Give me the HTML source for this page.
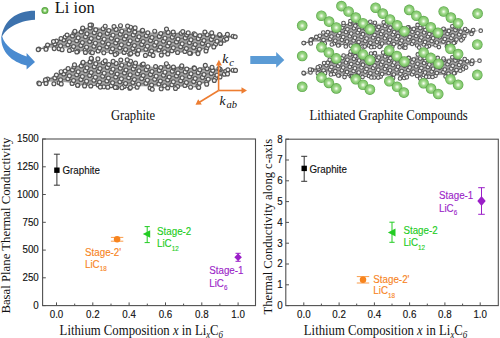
<!DOCTYPE html>
<html><head><meta charset="utf-8"><style>
html,body{margin:0;padding:0;background:#fff;}
body{width:500px;height:338px;overflow:hidden;font-family:"Liberation Sans",sans-serif;}
svg{display:block;}
</style></head><body>
<svg width="500" height="338" viewBox="0 0 500 338">
<defs>
 <radialGradient id="ball" cx="0.5" cy="0.5" r="0.5" fx="0.5" fy="0.52">
  <stop offset="0" stop-color="#ffffff"/>
  <stop offset="0.16" stop-color="#dcf3d0"/>
  <stop offset="0.45" stop-color="#9ed78a"/>
  <stop offset="0.8" stop-color="#80c76a"/>
  <stop offset="1" stop-color="#509c40"/>
 </radialGradient>
 <radialGradient id="liball" cx="0.5" cy="0.5" r="0.5">
  <stop offset="0" stop-color="#ffffff"/>
  <stop offset="0.22" stop-color="#d4f0c6"/>
  <stop offset="0.55" stop-color="#7cc860"/>
  <stop offset="1" stop-color="#4e9a3a"/>
 </radialGradient>
</defs>
<rect width="500" height="338" fill="#fff"/><path d="M35,10.7 C17,10.5 3.5,20 1.3,38 L2.2,36.5 C5,30 17,20.5 35,19.8 Z" fill="#3d72ad"/><path d="M1.3,37 C0.8,52 12,62 26.6,65.5 L26.6,69.6 L35,62 L26.6,53 L26.6,56.6 C14,52 5,46 2.2,36.5 Z" fill="#4a8bd0"/><circle cx="44.9" cy="10.5" r="3.5" fill="url(#liball)"/><text transform="translate(54.80,12.60) scale(1,1.03)" font-family="Liberation Serif" font-size="16.5" fill="#111">Li ion</text><polygon points="41.0,47.4 62.6,38.1 76.5,32.1 91.7,26.4 106.9,28.7 128.4,28.1 143.1,31.7 154.9,33.0 165.7,30.4 172.5,33.4 181.3,32.1 194.1,34.7 203.9,32.6 217.6,34.7 233.9,36.6 225.2,39.4 212.7,45.7 204.9,48.8 197.0,51.5 152.9,52.4 115.4,51.7 78.7,50.0 63.7,47.9" fill="#a4a4a4"/><path d="M46.1,47.9L38.8,49.0M46.1,47.9L47.6,45.0M54.9,43.9L47.6,45.0M54.9,43.9L56.4,41.0M54.9,43.9L60.6,45.8M63.7,39.9L56.4,41.0M63.7,39.9L65.2,37.0M63.7,39.9L69.4,41.8M72.5,35.9L65.2,37.0M72.5,35.9L74.0,33.0M72.5,35.9L78.2,37.8M81.3,31.9L74.0,33.0M81.3,31.9L82.8,29.0M81.3,31.9L87.0,33.8M90.1,27.9L82.8,29.0M90.1,27.9L91.6,25.0M90.1,27.9L95.8,29.8M59.1,48.7L60.6,45.8M67.9,44.7L60.6,45.8M67.9,44.7L69.4,41.8M67.9,44.7L73.6,46.5M76.7,40.7L69.4,41.8M76.7,40.7L78.2,37.8M76.7,40.7L82.4,42.5M85.5,36.7L78.2,37.8M85.5,36.7L87.0,33.8M85.5,36.7L91.2,38.5M94.3,32.7L87.0,33.8M94.3,32.7L95.8,29.8M94.3,32.7L100.0,34.5M103.1,28.7L95.8,29.8M103.1,28.7L108.8,30.5M72.1,49.4L73.6,46.5M72.1,49.4L77.8,51.2M80.9,45.4L73.6,46.5M80.9,45.4L82.4,42.5M80.9,45.4L86.6,47.2M89.7,41.4L82.4,42.5M89.7,41.4L91.2,38.5M89.7,41.4L95.4,43.2M98.5,37.4L91.2,38.5M98.5,37.4L100.0,34.5M98.5,37.4L104.2,39.2M107.3,33.4L100.0,34.5M107.3,33.4L108.8,30.5M107.3,33.4L113.0,35.2M116.1,29.4L108.8,30.5M116.1,29.4L121.8,31.2M85.1,50.2L77.8,51.2M85.1,50.2L86.6,47.2M85.1,50.2L90.8,52.0M93.9,46.2L86.6,47.2M93.9,46.2L95.4,43.2M93.9,46.2L99.6,48.0M102.7,42.2L95.4,43.2M102.7,42.2L104.2,39.2M102.7,42.2L108.4,44.0M111.5,38.2L104.2,39.2M111.5,38.2L113.0,35.2M111.5,38.2L117.2,40.0M120.3,34.2L113.0,35.2M120.3,34.2L121.8,31.2M120.3,34.2L126.0,36.0M129.1,30.2L121.8,31.2M129.1,30.2L130.6,27.2M129.1,30.2L134.8,32.0M98.1,50.9L90.8,52.0M98.1,50.9L99.6,48.0M98.1,50.9L103.8,52.8M106.9,46.9L99.6,48.0M106.9,46.9L108.4,44.0M106.9,46.9L112.6,48.8M115.7,42.9L108.4,44.0M115.7,42.9L117.2,40.0M115.7,42.9L121.4,44.8M124.5,38.9L117.2,40.0M124.5,38.9L126.0,36.0M124.5,38.9L130.2,40.8M133.3,34.9L126.0,36.0M133.3,34.9L134.8,32.0M133.3,34.9L139.0,36.8M142.1,30.9L134.8,32.0M142.1,30.9L147.8,32.8M111.1,51.7L103.8,52.8M111.1,51.7L112.6,48.8M111.1,51.7L116.8,53.5M119.9,47.7L112.6,48.8M119.9,47.7L121.4,44.8M119.9,47.7L125.6,49.5M128.7,43.7L121.4,44.8M128.7,43.7L130.2,40.8M128.7,43.7L134.4,45.5M137.5,39.7L130.2,40.8M137.5,39.7L139.0,36.8M137.5,39.7L143.2,41.5M146.3,35.7L139.0,36.8M146.3,35.7L147.8,32.8M146.3,35.7L152.0,37.5M124.1,52.4L116.8,53.5M124.1,52.4L125.6,49.5M124.1,52.4L129.8,54.2M132.9,48.4L125.6,49.5M132.9,48.4L134.4,45.5M132.9,48.4L138.6,50.2M141.7,44.4L134.4,45.5M141.7,44.4L143.2,41.5M141.7,44.4L147.4,46.2M150.5,40.4L143.2,41.5M150.5,40.4L152.0,37.5M150.5,40.4L156.2,42.2M159.3,36.4L152.0,37.5M159.3,36.4L160.8,33.5M159.3,36.4L165.0,38.2M168.1,32.4L160.8,33.5M168.1,32.4L173.8,34.2M137.1,53.2L129.8,54.2M137.1,53.2L138.6,50.2M145.9,49.2L138.6,50.2M145.9,49.2L147.4,46.2M145.9,49.2L151.6,51.0M154.7,45.2L147.4,46.2M154.7,45.2L156.2,42.2M154.7,45.2L160.4,47.0M163.5,41.2L156.2,42.2M163.5,41.2L165.0,38.2M163.5,41.2L169.2,43.0M172.3,37.2L165.0,38.2M172.3,37.2L173.8,34.2M172.3,37.2L178.0,39.0M181.1,33.2L173.8,34.2M181.1,33.2L186.8,35.0M150.1,53.9L151.6,51.0M158.9,49.9L151.6,51.0M158.9,49.9L160.4,47.0M158.9,49.9L164.6,51.8M167.7,45.9L160.4,47.0M167.7,45.9L169.2,43.0M167.7,45.9L173.4,47.8M176.5,41.9L169.2,43.0M176.5,41.9L178.0,39.0M176.5,41.9L182.2,43.8M185.3,37.9L178.0,39.0M185.3,37.9L186.8,35.0M185.3,37.9L191.0,39.8M194.1,33.9L186.8,35.0M194.1,33.9L199.8,35.8M171.9,50.7L164.6,51.8M171.9,50.7L173.4,47.8M171.9,50.7L177.6,52.5M180.7,46.7L173.4,47.8M180.7,46.7L182.2,43.8M180.7,46.7L186.4,48.5M189.5,42.7L182.2,43.8M189.5,42.7L191.0,39.8M189.5,42.7L195.2,44.5M198.3,38.7L191.0,39.8M198.3,38.7L199.8,35.8M198.3,38.7L204.0,40.5M207.1,34.7L199.8,35.8M207.1,34.7L212.8,36.5M184.9,51.4L177.6,52.5M184.9,51.4L186.4,48.5M184.9,51.4L190.6,53.2M193.7,47.4L186.4,48.5M193.7,47.4L195.2,44.5M193.7,47.4L199.4,49.2M202.5,43.4L195.2,44.5M202.5,43.4L204.0,40.5M202.5,43.4L208.2,45.2M211.3,39.4L204.0,40.5M211.3,39.4L212.8,36.5M211.3,39.4L217.0,41.2M220.1,35.4L212.8,36.5M220.1,35.4L225.8,37.2M197.9,52.2L190.6,53.2M197.9,52.2L199.4,49.2M206.7,48.2L199.4,49.2M206.7,48.2L208.2,45.2M215.5,44.2L208.2,45.2M215.5,44.2L217.0,41.2M224.3,40.2L217.0,41.2M224.3,40.2L225.8,37.2M233.1,36.2L225.8,37.2" stroke="#6e6e6e" stroke-width="1.1" fill="none"/><g fill="#f2f2f2" stroke="#555555" stroke-width="1.2"><circle cx="38.8" cy="49.0" r="1.95"/><circle cx="46.1" cy="47.9" r="1.95"/><circle cx="47.6" cy="45.0" r="1.95"/><circle cx="54.9" cy="43.9" r="1.95"/><circle cx="56.4" cy="41.0" r="1.95"/><circle cx="63.7" cy="39.9" r="1.95"/><circle cx="65.2" cy="37.0" r="1.95"/><circle cx="72.5" cy="35.9" r="1.95"/><circle cx="74.0" cy="33.0" r="1.95"/><circle cx="81.3" cy="31.9" r="1.95"/><circle cx="82.8" cy="29.0" r="1.95"/><circle cx="90.1" cy="27.9" r="1.95"/><circle cx="91.6" cy="25.0" r="1.95"/><circle cx="59.1" cy="48.7" r="1.95"/><circle cx="60.6" cy="45.8" r="1.95"/><circle cx="67.9" cy="44.7" r="1.95"/><circle cx="69.4" cy="41.8" r="1.95"/><circle cx="76.7" cy="40.7" r="1.95"/><circle cx="78.2" cy="37.8" r="1.95"/><circle cx="85.5" cy="36.7" r="1.95"/><circle cx="87.0" cy="33.8" r="1.95"/><circle cx="94.3" cy="32.7" r="1.95"/><circle cx="95.8" cy="29.8" r="1.95"/><circle cx="103.1" cy="28.7" r="1.95"/><circle cx="72.1" cy="49.4" r="1.95"/><circle cx="73.6" cy="46.5" r="1.95"/><circle cx="80.9" cy="45.4" r="1.95"/><circle cx="82.4" cy="42.5" r="1.95"/><circle cx="89.7" cy="41.4" r="1.95"/><circle cx="91.2" cy="38.5" r="1.95"/><circle cx="98.5" cy="37.4" r="1.95"/><circle cx="100.0" cy="34.5" r="1.95"/><circle cx="107.3" cy="33.4" r="1.95"/><circle cx="108.8" cy="30.5" r="1.95"/><circle cx="116.1" cy="29.4" r="1.95"/><circle cx="77.8" cy="51.2" r="1.95"/><circle cx="85.1" cy="50.2" r="1.95"/><circle cx="86.6" cy="47.2" r="1.95"/><circle cx="93.9" cy="46.2" r="1.95"/><circle cx="95.4" cy="43.2" r="1.95"/><circle cx="102.7" cy="42.2" r="1.95"/><circle cx="104.2" cy="39.2" r="1.95"/><circle cx="111.5" cy="38.2" r="1.95"/><circle cx="113.0" cy="35.2" r="1.95"/><circle cx="120.3" cy="34.2" r="1.95"/><circle cx="121.8" cy="31.2" r="1.95"/><circle cx="129.1" cy="30.2" r="1.95"/><circle cx="130.6" cy="27.2" r="1.95"/><circle cx="90.8" cy="52.0" r="1.95"/><circle cx="98.1" cy="50.9" r="1.95"/><circle cx="99.6" cy="48.0" r="1.95"/><circle cx="106.9" cy="46.9" r="1.95"/><circle cx="108.4" cy="44.0" r="1.95"/><circle cx="115.7" cy="42.9" r="1.95"/><circle cx="117.2" cy="40.0" r="1.95"/><circle cx="124.5" cy="38.9" r="1.95"/><circle cx="126.0" cy="36.0" r="1.95"/><circle cx="133.3" cy="34.9" r="1.95"/><circle cx="134.8" cy="32.0" r="1.95"/><circle cx="142.1" cy="30.9" r="1.95"/><circle cx="103.8" cy="52.8" r="1.95"/><circle cx="111.1" cy="51.7" r="1.95"/><circle cx="112.6" cy="48.8" r="1.95"/><circle cx="119.9" cy="47.7" r="1.95"/><circle cx="121.4" cy="44.8" r="1.95"/><circle cx="128.7" cy="43.7" r="1.95"/><circle cx="130.2" cy="40.8" r="1.95"/><circle cx="137.5" cy="39.7" r="1.95"/><circle cx="139.0" cy="36.8" r="1.95"/><circle cx="146.3" cy="35.7" r="1.95"/><circle cx="147.8" cy="32.8" r="1.95"/><circle cx="116.8" cy="53.5" r="1.95"/><circle cx="124.1" cy="52.4" r="1.95"/><circle cx="125.6" cy="49.5" r="1.95"/><circle cx="132.9" cy="48.4" r="1.95"/><circle cx="134.4" cy="45.5" r="1.95"/><circle cx="141.7" cy="44.4" r="1.95"/><circle cx="143.2" cy="41.5" r="1.95"/><circle cx="150.5" cy="40.4" r="1.95"/><circle cx="152.0" cy="37.5" r="1.95"/><circle cx="159.3" cy="36.4" r="1.95"/><circle cx="160.8" cy="33.5" r="1.95"/><circle cx="168.1" cy="32.4" r="1.95"/><circle cx="129.8" cy="54.2" r="1.95"/><circle cx="137.1" cy="53.2" r="1.95"/><circle cx="138.6" cy="50.2" r="1.95"/><circle cx="145.9" cy="49.2" r="1.95"/><circle cx="147.4" cy="46.2" r="1.95"/><circle cx="154.7" cy="45.2" r="1.95"/><circle cx="156.2" cy="42.2" r="1.95"/><circle cx="163.5" cy="41.2" r="1.95"/><circle cx="165.0" cy="38.2" r="1.95"/><circle cx="172.3" cy="37.2" r="1.95"/><circle cx="173.8" cy="34.2" r="1.95"/><circle cx="181.1" cy="33.2" r="1.95"/><circle cx="150.1" cy="53.9" r="1.95"/><circle cx="151.6" cy="51.0" r="1.95"/><circle cx="158.9" cy="49.9" r="1.95"/><circle cx="160.4" cy="47.0" r="1.95"/><circle cx="167.7" cy="45.9" r="1.95"/><circle cx="169.2" cy="43.0" r="1.95"/><circle cx="176.5" cy="41.9" r="1.95"/><circle cx="178.0" cy="39.0" r="1.95"/><circle cx="185.3" cy="37.9" r="1.95"/><circle cx="186.8" cy="35.0" r="1.95"/><circle cx="194.1" cy="33.9" r="1.95"/><circle cx="164.6" cy="51.8" r="1.95"/><circle cx="171.9" cy="50.7" r="1.95"/><circle cx="173.4" cy="47.8" r="1.95"/><circle cx="180.7" cy="46.7" r="1.95"/><circle cx="182.2" cy="43.8" r="1.95"/><circle cx="189.5" cy="42.7" r="1.95"/><circle cx="191.0" cy="39.8" r="1.95"/><circle cx="198.3" cy="38.7" r="1.95"/><circle cx="199.8" cy="35.8" r="1.95"/><circle cx="207.1" cy="34.7" r="1.95"/><circle cx="177.6" cy="52.5" r="1.95"/><circle cx="184.9" cy="51.4" r="1.95"/><circle cx="186.4" cy="48.5" r="1.95"/><circle cx="193.7" cy="47.4" r="1.95"/><circle cx="195.2" cy="44.5" r="1.95"/><circle cx="202.5" cy="43.4" r="1.95"/><circle cx="204.0" cy="40.5" r="1.95"/><circle cx="211.3" cy="39.4" r="1.95"/><circle cx="212.8" cy="36.5" r="1.95"/><circle cx="220.1" cy="35.4" r="1.95"/><circle cx="190.6" cy="53.2" r="1.95"/><circle cx="197.9" cy="52.2" r="1.95"/><circle cx="199.4" cy="49.2" r="1.95"/><circle cx="206.7" cy="48.2" r="1.95"/><circle cx="208.2" cy="45.2" r="1.95"/><circle cx="215.5" cy="44.2" r="1.95"/><circle cx="217.0" cy="41.2" r="1.95"/><circle cx="224.3" cy="40.2" r="1.95"/><circle cx="225.8" cy="37.2" r="1.95"/><circle cx="233.1" cy="36.2" r="1.95"/><circle cx="38.2" cy="49.6" r="1.95"/><circle cx="53.5" cy="41.6" r="1.95"/><circle cx="61.0" cy="38.5" r="1.95"/><circle cx="67.1" cy="35.0" r="1.95"/><circle cx="74.9" cy="31.4" r="1.95"/><circle cx="82.7" cy="28.0" r="1.95"/><circle cx="90.1" cy="25.0" r="1.95"/><circle cx="105.2" cy="26.2" r="1.95"/><circle cx="114.0" cy="26.5" r="1.95"/><circle cx="120.5" cy="25.7" r="1.95"/><circle cx="127.6" cy="26.1" r="1.95"/><circle cx="135.1" cy="27.9" r="1.95"/><circle cx="142.6" cy="30.4" r="1.95"/><circle cx="154.7" cy="31.2" r="1.95"/><circle cx="166.5" cy="29.1" r="1.95"/><circle cx="173.2" cy="32.0" r="1.95"/><circle cx="182.8" cy="31.6" r="1.95"/><circle cx="188.2" cy="32.9" r="1.95"/><circle cx="195.3" cy="34.7" r="1.95"/><circle cx="204.9" cy="32.0" r="1.95"/><circle cx="211.7" cy="32.9" r="1.95"/><circle cx="219.6" cy="34.6" r="1.95"/><circle cx="227.4" cy="34.4" r="1.95"/><circle cx="235.2" cy="36.8" r="1.95"/><circle cx="226.7" cy="39.0" r="1.95"/><circle cx="220.7" cy="43.5" r="1.95"/><circle cx="213.8" cy="46.9" r="1.95"/><circle cx="206.0" cy="51.0" r="1.95"/><circle cx="198.0" cy="53.6" r="1.95"/><circle cx="189.7" cy="53.2" r="1.95"/><circle cx="167.8" cy="53.9" r="1.95"/><circle cx="161.3" cy="55.1" r="1.95"/><circle cx="153.1" cy="55.4" r="1.95"/><circle cx="145.4" cy="55.4" r="1.95"/><circle cx="137.6" cy="54.1" r="1.95"/><circle cx="130.8" cy="53.5" r="1.95"/><circle cx="115.2" cy="54.6" r="1.95"/><circle cx="92.4" cy="52.7" r="1.95"/><circle cx="85.4" cy="52.5" r="1.95"/><circle cx="76.8" cy="52.0" r="1.95"/><circle cx="69.4" cy="50.5" r="1.95"/><circle cx="62.1" cy="49.7" r="1.95"/><circle cx="54.2" cy="48.6" r="1.95"/><circle cx="46.0" cy="49.3" r="1.95"/></g><polygon points="41.0,81.4 62.6,72.1 76.5,66.1 91.7,60.4 106.9,62.7 128.4,62.1 143.1,65.7 154.9,67.0 165.7,64.4 172.5,67.4 181.3,66.1 194.1,68.7 203.9,66.6 217.6,68.7 233.9,70.6 225.2,73.4 212.7,79.7 204.9,82.8 197.0,85.5 152.9,86.4 115.4,85.7 78.7,84.0 63.7,81.9" fill="#a4a4a4"/><path d="M46.1,81.9L38.8,83.0M46.1,81.9L47.6,79.0M54.9,77.9L47.6,79.0M54.9,77.9L56.4,75.0M54.9,77.9L60.6,79.8M63.7,73.9L56.4,75.0M63.7,73.9L65.2,71.0M63.7,73.9L69.4,75.8M72.5,69.9L65.2,71.0M72.5,69.9L74.0,67.0M72.5,69.9L78.2,71.8M81.3,65.9L74.0,67.0M81.3,65.9L82.8,63.0M81.3,65.9L87.0,67.8M90.1,61.9L82.8,63.0M90.1,61.9L91.6,59.0M90.1,61.9L95.8,63.8M59.1,82.7L60.6,79.8M67.9,78.7L60.6,79.8M67.9,78.7L69.4,75.8M67.9,78.7L73.6,80.5M76.7,74.7L69.4,75.8M76.7,74.7L78.2,71.8M76.7,74.7L82.4,76.5M85.5,70.7L78.2,71.8M85.5,70.7L87.0,67.8M85.5,70.7L91.2,72.5M94.3,66.7L87.0,67.8M94.3,66.7L95.8,63.8M94.3,66.7L100.0,68.5M103.1,62.7L95.8,63.8M103.1,62.7L108.8,64.5M72.1,83.4L73.6,80.5M72.1,83.4L77.8,85.2M80.9,79.4L73.6,80.5M80.9,79.4L82.4,76.5M80.9,79.4L86.6,81.2M89.7,75.4L82.4,76.5M89.7,75.4L91.2,72.5M89.7,75.4L95.4,77.2M98.5,71.4L91.2,72.5M98.5,71.4L100.0,68.5M98.5,71.4L104.2,73.2M107.3,67.4L100.0,68.5M107.3,67.4L108.8,64.5M107.3,67.4L113.0,69.2M116.1,63.4L108.8,64.5M116.1,63.4L121.8,65.2M85.1,84.2L77.8,85.2M85.1,84.2L86.6,81.2M85.1,84.2L90.8,86.0M93.9,80.2L86.6,81.2M93.9,80.2L95.4,77.2M93.9,80.2L99.6,82.0M102.7,76.2L95.4,77.2M102.7,76.2L104.2,73.2M102.7,76.2L108.4,78.0M111.5,72.2L104.2,73.2M111.5,72.2L113.0,69.2M111.5,72.2L117.2,74.0M120.3,68.2L113.0,69.2M120.3,68.2L121.8,65.2M120.3,68.2L126.0,70.0M129.1,64.2L121.8,65.2M129.1,64.2L130.6,61.2M129.1,64.2L134.8,66.0M98.1,84.9L90.8,86.0M98.1,84.9L99.6,82.0M98.1,84.9L103.8,86.8M106.9,80.9L99.6,82.0M106.9,80.9L108.4,78.0M106.9,80.9L112.6,82.8M115.7,76.9L108.4,78.0M115.7,76.9L117.2,74.0M115.7,76.9L121.4,78.8M124.5,72.9L117.2,74.0M124.5,72.9L126.0,70.0M124.5,72.9L130.2,74.8M133.3,68.9L126.0,70.0M133.3,68.9L134.8,66.0M133.3,68.9L139.0,70.8M142.1,64.9L134.8,66.0M142.1,64.9L147.8,66.8M111.1,85.7L103.8,86.8M111.1,85.7L112.6,82.8M111.1,85.7L116.8,87.5M119.9,81.7L112.6,82.8M119.9,81.7L121.4,78.8M119.9,81.7L125.6,83.5M128.7,77.7L121.4,78.8M128.7,77.7L130.2,74.8M128.7,77.7L134.4,79.5M137.5,73.7L130.2,74.8M137.5,73.7L139.0,70.8M137.5,73.7L143.2,75.5M146.3,69.7L139.0,70.8M146.3,69.7L147.8,66.8M146.3,69.7L152.0,71.5M124.1,86.4L116.8,87.5M124.1,86.4L125.6,83.5M124.1,86.4L129.8,88.2M132.9,82.4L125.6,83.5M132.9,82.4L134.4,79.5M132.9,82.4L138.6,84.2M141.7,78.4L134.4,79.5M141.7,78.4L143.2,75.5M141.7,78.4L147.4,80.2M150.5,74.4L143.2,75.5M150.5,74.4L152.0,71.5M150.5,74.4L156.2,76.2M159.3,70.4L152.0,71.5M159.3,70.4L160.8,67.5M159.3,70.4L165.0,72.2M168.1,66.4L160.8,67.5M168.1,66.4L173.8,68.2M137.1,87.2L129.8,88.2M137.1,87.2L138.6,84.2M145.9,83.2L138.6,84.2M145.9,83.2L147.4,80.2M145.9,83.2L151.6,85.0M154.7,79.2L147.4,80.2M154.7,79.2L156.2,76.2M154.7,79.2L160.4,81.0M163.5,75.2L156.2,76.2M163.5,75.2L165.0,72.2M163.5,75.2L169.2,77.0M172.3,71.2L165.0,72.2M172.3,71.2L173.8,68.2M172.3,71.2L178.0,73.0M181.1,67.2L173.8,68.2M181.1,67.2L186.8,69.0M150.1,87.9L151.6,85.0M158.9,83.9L151.6,85.0M158.9,83.9L160.4,81.0M158.9,83.9L164.6,85.8M167.7,79.9L160.4,81.0M167.7,79.9L169.2,77.0M167.7,79.9L173.4,81.8M176.5,75.9L169.2,77.0M176.5,75.9L178.0,73.0M176.5,75.9L182.2,77.8M185.3,71.9L178.0,73.0M185.3,71.9L186.8,69.0M185.3,71.9L191.0,73.8M194.1,67.9L186.8,69.0M194.1,67.9L199.8,69.8M171.9,84.7L164.6,85.8M171.9,84.7L173.4,81.8M171.9,84.7L177.6,86.5M180.7,80.7L173.4,81.8M180.7,80.7L182.2,77.8M180.7,80.7L186.4,82.5M189.5,76.7L182.2,77.8M189.5,76.7L191.0,73.8M189.5,76.7L195.2,78.5M198.3,72.7L191.0,73.8M198.3,72.7L199.8,69.8M198.3,72.7L204.0,74.5M207.1,68.7L199.8,69.8M207.1,68.7L212.8,70.5M184.9,85.4L177.6,86.5M184.9,85.4L186.4,82.5M184.9,85.4L190.6,87.2M193.7,81.4L186.4,82.5M193.7,81.4L195.2,78.5M193.7,81.4L199.4,83.2M202.5,77.4L195.2,78.5M202.5,77.4L204.0,74.5M202.5,77.4L208.2,79.2M211.3,73.4L204.0,74.5M211.3,73.4L212.8,70.5M211.3,73.4L217.0,75.2M220.1,69.4L212.8,70.5M220.1,69.4L225.8,71.2M197.9,86.2L190.6,87.2M197.9,86.2L199.4,83.2M206.7,82.2L199.4,83.2M206.7,82.2L208.2,79.2M215.5,78.2L208.2,79.2M215.5,78.2L217.0,75.2M224.3,74.2L217.0,75.2M224.3,74.2L225.8,71.2M233.1,70.2L225.8,71.2" stroke="#6e6e6e" stroke-width="1.1" fill="none"/><g fill="#f2f2f2" stroke="#555555" stroke-width="1.2"><circle cx="38.8" cy="83.0" r="1.95"/><circle cx="46.1" cy="81.9" r="1.95"/><circle cx="47.6" cy="79.0" r="1.95"/><circle cx="54.9" cy="77.9" r="1.95"/><circle cx="56.4" cy="75.0" r="1.95"/><circle cx="63.7" cy="73.9" r="1.95"/><circle cx="65.2" cy="71.0" r="1.95"/><circle cx="72.5" cy="69.9" r="1.95"/><circle cx="74.0" cy="67.0" r="1.95"/><circle cx="81.3" cy="65.9" r="1.95"/><circle cx="82.8" cy="63.0" r="1.95"/><circle cx="90.1" cy="61.9" r="1.95"/><circle cx="91.6" cy="59.0" r="1.95"/><circle cx="59.1" cy="82.7" r="1.95"/><circle cx="60.6" cy="79.8" r="1.95"/><circle cx="67.9" cy="78.7" r="1.95"/><circle cx="69.4" cy="75.8" r="1.95"/><circle cx="76.7" cy="74.7" r="1.95"/><circle cx="78.2" cy="71.8" r="1.95"/><circle cx="85.5" cy="70.7" r="1.95"/><circle cx="87.0" cy="67.8" r="1.95"/><circle cx="94.3" cy="66.7" r="1.95"/><circle cx="95.8" cy="63.8" r="1.95"/><circle cx="103.1" cy="62.7" r="1.95"/><circle cx="72.1" cy="83.4" r="1.95"/><circle cx="73.6" cy="80.5" r="1.95"/><circle cx="80.9" cy="79.4" r="1.95"/><circle cx="82.4" cy="76.5" r="1.95"/><circle cx="89.7" cy="75.4" r="1.95"/><circle cx="91.2" cy="72.5" r="1.95"/><circle cx="98.5" cy="71.4" r="1.95"/><circle cx="100.0" cy="68.5" r="1.95"/><circle cx="107.3" cy="67.4" r="1.95"/><circle cx="108.8" cy="64.5" r="1.95"/><circle cx="116.1" cy="63.4" r="1.95"/><circle cx="77.8" cy="85.2" r="1.95"/><circle cx="85.1" cy="84.2" r="1.95"/><circle cx="86.6" cy="81.2" r="1.95"/><circle cx="93.9" cy="80.2" r="1.95"/><circle cx="95.4" cy="77.2" r="1.95"/><circle cx="102.7" cy="76.2" r="1.95"/><circle cx="104.2" cy="73.2" r="1.95"/><circle cx="111.5" cy="72.2" r="1.95"/><circle cx="113.0" cy="69.2" r="1.95"/><circle cx="120.3" cy="68.2" r="1.95"/><circle cx="121.8" cy="65.2" r="1.95"/><circle cx="129.1" cy="64.2" r="1.95"/><circle cx="130.6" cy="61.2" r="1.95"/><circle cx="90.8" cy="86.0" r="1.95"/><circle cx="98.1" cy="84.9" r="1.95"/><circle cx="99.6" cy="82.0" r="1.95"/><circle cx="106.9" cy="80.9" r="1.95"/><circle cx="108.4" cy="78.0" r="1.95"/><circle cx="115.7" cy="76.9" r="1.95"/><circle cx="117.2" cy="74.0" r="1.95"/><circle cx="124.5" cy="72.9" r="1.95"/><circle cx="126.0" cy="70.0" r="1.95"/><circle cx="133.3" cy="68.9" r="1.95"/><circle cx="134.8" cy="66.0" r="1.95"/><circle cx="142.1" cy="64.9" r="1.95"/><circle cx="103.8" cy="86.8" r="1.95"/><circle cx="111.1" cy="85.7" r="1.95"/><circle cx="112.6" cy="82.8" r="1.95"/><circle cx="119.9" cy="81.7" r="1.95"/><circle cx="121.4" cy="78.8" r="1.95"/><circle cx="128.7" cy="77.7" r="1.95"/><circle cx="130.2" cy="74.8" r="1.95"/><circle cx="137.5" cy="73.7" r="1.95"/><circle cx="139.0" cy="70.8" r="1.95"/><circle cx="146.3" cy="69.7" r="1.95"/><circle cx="147.8" cy="66.8" r="1.95"/><circle cx="116.8" cy="87.5" r="1.95"/><circle cx="124.1" cy="86.4" r="1.95"/><circle cx="125.6" cy="83.5" r="1.95"/><circle cx="132.9" cy="82.4" r="1.95"/><circle cx="134.4" cy="79.5" r="1.95"/><circle cx="141.7" cy="78.4" r="1.95"/><circle cx="143.2" cy="75.5" r="1.95"/><circle cx="150.5" cy="74.4" r="1.95"/><circle cx="152.0" cy="71.5" r="1.95"/><circle cx="159.3" cy="70.4" r="1.95"/><circle cx="160.8" cy="67.5" r="1.95"/><circle cx="168.1" cy="66.4" r="1.95"/><circle cx="129.8" cy="88.2" r="1.95"/><circle cx="137.1" cy="87.2" r="1.95"/><circle cx="138.6" cy="84.2" r="1.95"/><circle cx="145.9" cy="83.2" r="1.95"/><circle cx="147.4" cy="80.2" r="1.95"/><circle cx="154.7" cy="79.2" r="1.95"/><circle cx="156.2" cy="76.2" r="1.95"/><circle cx="163.5" cy="75.2" r="1.95"/><circle cx="165.0" cy="72.2" r="1.95"/><circle cx="172.3" cy="71.2" r="1.95"/><circle cx="173.8" cy="68.2" r="1.95"/><circle cx="181.1" cy="67.2" r="1.95"/><circle cx="150.1" cy="87.9" r="1.95"/><circle cx="151.6" cy="85.0" r="1.95"/><circle cx="158.9" cy="83.9" r="1.95"/><circle cx="160.4" cy="81.0" r="1.95"/><circle cx="167.7" cy="79.9" r="1.95"/><circle cx="169.2" cy="77.0" r="1.95"/><circle cx="176.5" cy="75.9" r="1.95"/><circle cx="178.0" cy="73.0" r="1.95"/><circle cx="185.3" cy="71.9" r="1.95"/><circle cx="186.8" cy="69.0" r="1.95"/><circle cx="194.1" cy="67.9" r="1.95"/><circle cx="164.6" cy="85.8" r="1.95"/><circle cx="171.9" cy="84.7" r="1.95"/><circle cx="173.4" cy="81.8" r="1.95"/><circle cx="180.7" cy="80.7" r="1.95"/><circle cx="182.2" cy="77.8" r="1.95"/><circle cx="189.5" cy="76.7" r="1.95"/><circle cx="191.0" cy="73.8" r="1.95"/><circle cx="198.3" cy="72.7" r="1.95"/><circle cx="199.8" cy="69.8" r="1.95"/><circle cx="207.1" cy="68.7" r="1.95"/><circle cx="177.6" cy="86.5" r="1.95"/><circle cx="184.9" cy="85.4" r="1.95"/><circle cx="186.4" cy="82.5" r="1.95"/><circle cx="193.7" cy="81.4" r="1.95"/><circle cx="195.2" cy="78.5" r="1.95"/><circle cx="202.5" cy="77.4" r="1.95"/><circle cx="204.0" cy="74.5" r="1.95"/><circle cx="211.3" cy="73.4" r="1.95"/><circle cx="212.8" cy="70.5" r="1.95"/><circle cx="220.1" cy="69.4" r="1.95"/><circle cx="190.6" cy="87.2" r="1.95"/><circle cx="197.9" cy="86.2" r="1.95"/><circle cx="199.4" cy="83.2" r="1.95"/><circle cx="206.7" cy="82.2" r="1.95"/><circle cx="208.2" cy="79.2" r="1.95"/><circle cx="215.5" cy="78.2" r="1.95"/><circle cx="217.0" cy="75.2" r="1.95"/><circle cx="224.3" cy="74.2" r="1.95"/><circle cx="225.8" cy="71.2" r="1.95"/><circle cx="233.1" cy="70.2" r="1.95"/><circle cx="39.5" cy="83.7" r="1.95"/><circle cx="45.5" cy="79.9" r="1.95"/><circle cx="61.1" cy="71.7" r="1.95"/><circle cx="68.1" cy="68.6" r="1.95"/><circle cx="74.5" cy="64.9" r="1.95"/><circle cx="83.1" cy="62.4" r="1.95"/><circle cx="91.2" cy="58.4" r="1.95"/><circle cx="97.9" cy="58.9" r="1.95"/><circle cx="105.2" cy="60.9" r="1.95"/><circle cx="113.1" cy="61.4" r="1.95"/><circle cx="120.8" cy="60.0" r="1.95"/><circle cx="127.2" cy="59.9" r="1.95"/><circle cx="135.5" cy="63.1" r="1.95"/><circle cx="143.3" cy="64.0" r="1.95"/><circle cx="155.6" cy="66.5" r="1.95"/><circle cx="166.4" cy="63.7" r="1.95"/><circle cx="173.4" cy="67.0" r="1.95"/><circle cx="181.8" cy="65.8" r="1.95"/><circle cx="194.5" cy="68.4" r="1.95"/><circle cx="205.3" cy="65.4" r="1.95"/><circle cx="212.0" cy="67.4" r="1.95"/><circle cx="219.0" cy="68.5" r="1.95"/><circle cx="227.9" cy="69.8" r="1.95"/><circle cx="235.5" cy="70.4" r="1.95"/><circle cx="227.5" cy="73.9" r="1.95"/><circle cx="220.0" cy="77.0" r="1.95"/><circle cx="214.3" cy="80.5" r="1.95"/><circle cx="206.7" cy="84.2" r="1.95"/><circle cx="198.7" cy="87.5" r="1.95"/><circle cx="175.5" cy="88.5" r="1.95"/><circle cx="167.7" cy="88.0" r="1.95"/><circle cx="161.2" cy="88.8" r="1.95"/><circle cx="152.3" cy="89.3" r="1.95"/><circle cx="130.4" cy="87.6" r="1.95"/><circle cx="122.0" cy="87.7" r="1.95"/><circle cx="115.3" cy="87.4" r="1.95"/><circle cx="107.8" cy="87.2" r="1.95"/><circle cx="100.3" cy="87.1" r="1.95"/><circle cx="84.6" cy="85.9" r="1.95"/><circle cx="77.6" cy="85.3" r="1.95"/><circle cx="61.2" cy="83.9" r="1.95"/><circle cx="53.9" cy="83.8" r="1.95"/><circle cx="46.0" cy="83.5" r="1.95"/></g><g stroke="#ed7d31" stroke-width="1.6" fill="none"><line x1="218.6" y1="90.5" x2="218.6" y2="64"/><line x1="218.6" y1="90.5" x2="242" y2="90.5"/><line x1="218.6" y1="90.5" x2="199" y2="102.5"/></g><g fill="#ed7d31"><polygon points="218.9,59.8 215.9,65.5 221.9,65.5"/><polygon points="247,90.5 241.5,87.3 241.5,93.7"/><polygon points="195.5,104.8 198.2,99.2 201.8,104.6"/></g><text x="222.3" y="62.8" font-family="Liberation Serif" font-style="italic" font-size="13.5" fill="#111">k</text><text x="229.3" y="65.5" font-family="Liberation Serif" font-style="italic" font-size="10.5" fill="#111">c</text><text x="219.4" y="104.9" font-family="Liberation Serif" font-style="italic" font-size="13.5" fill="#111">k</text><text x="226.5" y="107.9" font-family="Liberation Serif" font-style="italic" font-size="10.5" fill="#111">ab</text><text transform="translate(111.00,120.20) scale(1,1.12)" font-family="Liberation Serif" font-size="12.6" fill="#111">Graphite</text><polygon points="250.3,56 276.2,56 276.2,52.1 284.3,60 276.2,67.8 276.2,63.9 250.3,63.9" fill="#5b9bd5"/><polygon points="306.0,41.5 325.2,33.0 337.7,27.5 351.3,22.3 364.8,24.3 384.1,23.6 397.3,26.8 407.8,27.9 417.4,25.5 423.5,28.2 431.4,27.0 442.8,29.2 451.6,27.3 463.8,29.1 478.4,30.8 470.7,33.3 459.5,39.1 452.5,41.9 445.4,44.4 406.0,45.3 372.5,44.9 339.7,43.6 326.3,41.8" fill="#a4a4a4"/><path d="M310.5,42.0L304.0,43.0M310.5,42.0L311.9,39.4M318.5,38.4L311.9,39.4M318.5,38.4L319.8,35.8M318.5,38.4L323.6,40.1M326.4,34.8L319.8,35.8M326.4,34.8L327.8,32.2M326.4,34.8L331.5,36.5M334.3,31.2L327.8,32.2M334.3,31.2L335.7,28.6M334.3,31.2L339.5,32.9M342.2,27.6L335.7,28.6M342.2,27.6L343.6,25.0M342.2,27.6L347.4,29.3M350.1,24.0L343.6,25.0M350.1,24.0L351.5,21.4M350.1,24.0L355.3,25.7M322.2,42.7L323.6,40.1M330.2,39.1L323.6,40.1M330.2,39.1L331.5,36.5M330.2,39.1L335.3,40.7M338.1,35.5L331.5,36.5M338.1,35.5L339.5,32.9M338.1,35.5L343.2,37.1M346.0,31.9L339.5,32.9M346.0,31.9L347.4,29.3M346.0,31.9L351.2,33.5M353.9,28.3L347.4,29.3M353.9,28.3L355.3,25.7M353.9,28.3L359.1,30.0M361.8,24.7L355.3,25.7M361.8,24.7L367.0,26.4M333.9,43.4L335.3,40.8M333.9,43.4L339.1,45.0M341.9,39.8L335.3,40.8M341.9,39.8L343.2,37.1M341.9,39.8L347.0,41.4M349.8,36.2L343.2,37.1M349.8,36.2L351.2,33.5M349.8,36.2L354.9,37.8M357.7,32.6L351.2,33.6M357.7,32.6L359.1,30.0M357.7,32.6L362.9,34.2M365.6,29.0L359.1,30.0M365.6,29.0L367.0,26.4M365.6,29.0L370.8,30.6M373.5,25.4L367.0,26.4M373.5,25.4L374.9,22.8M373.5,25.4L378.7,27.0M345.6,44.0L339.1,45.0M345.6,44.0L347.0,41.4M345.6,44.0L350.8,45.7M353.6,40.4L347.0,41.4M353.6,40.4L354.9,37.8M353.6,40.4L358.7,42.1M361.5,36.8L354.9,37.8M361.5,36.8L362.9,34.2M361.5,36.8L366.6,38.5M369.4,33.2L362.9,34.2M369.4,33.2L370.8,30.6M369.4,33.2L374.6,34.9M377.3,29.6L370.8,30.6M377.3,29.6L378.7,27.0M377.3,29.6L382.5,31.3M385.2,26.0L378.7,27.0M385.2,26.0L386.6,23.4M385.2,26.0L390.4,27.7M357.3,44.7L350.8,45.7M357.3,44.7L358.7,42.1M357.3,44.7L362.5,46.4M365.3,41.1L358.7,42.1M365.3,41.1L366.6,38.5M365.3,41.1L370.4,42.8M373.2,37.5L366.6,38.5M373.2,37.5L374.6,34.9M373.2,37.5L378.3,39.2M381.1,33.9L374.6,34.9M381.1,33.9L382.5,31.3M381.1,33.9L386.3,35.6M389.0,30.3L382.5,31.3M389.0,30.3L390.4,27.7M389.0,30.3L394.2,32.0M396.9,26.7L390.4,27.7M396.9,26.7L402.1,28.4M369.0,45.4L362.5,46.4M369.0,45.4L370.4,42.8M369.0,45.4L374.2,47.0M377.0,41.8L370.4,42.8M377.0,41.8L378.3,39.2M377.0,41.8L382.1,43.4M384.9,38.2L378.3,39.2M384.9,38.2L386.3,35.6M384.9,38.2L390.0,39.8M392.8,34.6L386.3,35.6M392.8,34.6L394.2,32.0M392.8,34.6L398.0,36.2M400.7,31.0L394.2,32.0M400.7,31.0L402.1,28.4M400.7,31.0L405.9,32.6M408.6,27.4L402.1,28.4M408.6,27.4L413.8,29.1M380.7,46.1L374.2,47.0M380.7,46.1L382.1,43.4M388.7,42.5L382.1,43.5M388.7,42.5L390.0,39.9M388.7,42.5L393.8,44.1M396.6,38.9L390.0,39.8M396.6,38.9L398.0,36.2M396.6,38.9L401.7,40.5M404.5,35.3L398.0,36.2M404.5,35.3L405.9,32.6M404.5,35.3L409.7,36.9M412.4,31.7L405.9,32.7M412.4,31.7L413.8,29.1M412.4,31.7L417.6,33.3M420.3,28.1L413.8,29.1M420.3,28.1L425.5,29.7M392.4,46.8L393.8,44.1M400.4,43.1L393.8,44.1M400.4,43.1L401.7,40.5M400.4,43.1L405.5,44.8M408.3,39.5L401.7,40.5M408.3,39.5L409.7,36.9M408.3,39.5L413.4,41.2M416.2,36.0L409.7,36.9M416.2,36.0L417.6,33.3M416.2,36.0L421.4,37.6M424.1,32.4L417.6,33.3M424.1,32.4L425.5,29.7M424.1,32.4L429.3,34.0M432.0,28.8L425.5,29.7M432.0,28.8L437.2,30.4M404.1,47.4L405.5,44.8M412.1,43.8L405.5,44.8M412.1,43.8L413.4,41.2M412.1,43.8L417.2,45.5M420.0,40.2L413.4,41.2M420.0,40.2L421.4,37.6M420.0,40.2L425.1,41.9M427.9,36.6L421.4,37.6M427.9,36.6L429.3,34.0M427.9,36.6L433.1,38.3M435.8,33.0L429.3,34.0M435.8,33.0L437.2,30.4M435.8,33.0L441.0,34.7M443.7,29.4L437.2,30.4M443.7,29.4L448.9,31.1M423.8,44.5L417.2,45.5M423.8,44.5L425.1,41.9M423.8,44.5L428.9,46.1M431.7,40.9L425.1,41.9M431.7,40.9L433.1,38.3M431.7,40.9L436.8,42.5M439.6,37.3L433.1,38.3M439.6,37.3L441.0,34.7M439.6,37.3L444.8,39.0M447.5,33.7L441.0,34.7M447.5,33.7L448.9,31.1M447.5,33.7L452.7,35.4M455.4,30.1L448.9,31.1M455.4,30.1L456.8,27.5M455.4,30.1L460.6,31.8M435.5,45.2L428.9,46.1M435.5,45.2L436.8,42.5M443.4,41.6L436.8,42.5M443.4,41.6L444.8,38.9M443.4,41.6L448.5,43.2M451.3,38.0L444.8,39.0M451.3,38.0L452.7,35.4M451.3,38.0L456.5,39.6M459.2,34.4L452.7,35.4M459.2,34.4L460.6,31.8M459.2,34.4L464.4,36.0M467.1,30.8L460.6,31.8M467.1,30.8L472.3,32.4M447.2,45.9L448.5,43.2M455.1,42.2L448.5,43.2M455.1,42.2L456.5,39.6M463.0,38.6L456.5,39.6M463.0,38.6L464.4,36.0" stroke="#6e6e6e" stroke-width="1.1" fill="none"/><g fill="#f2f2f2" stroke="#555555" stroke-width="1.1"><circle cx="304.0" cy="43.0" r="1.8"/><circle cx="310.5" cy="42.0" r="1.8"/><circle cx="311.9" cy="39.4" r="1.8"/><circle cx="318.5" cy="38.4" r="1.8"/><circle cx="319.8" cy="35.8" r="1.8"/><circle cx="326.4" cy="34.8" r="1.8"/><circle cx="327.8" cy="32.2" r="1.8"/><circle cx="334.3" cy="31.2" r="1.8"/><circle cx="335.7" cy="28.6" r="1.8"/><circle cx="342.2" cy="27.6" r="1.8"/><circle cx="343.6" cy="25.0" r="1.8"/><circle cx="350.1" cy="24.0" r="1.8"/><circle cx="351.5" cy="21.4" r="1.8"/><circle cx="322.2" cy="42.7" r="1.8"/><circle cx="323.6" cy="40.1" r="1.8"/><circle cx="330.2" cy="39.1" r="1.8"/><circle cx="331.5" cy="36.5" r="1.8"/><circle cx="338.1" cy="35.5" r="1.8"/><circle cx="339.5" cy="32.9" r="1.8"/><circle cx="346.0" cy="31.9" r="1.8"/><circle cx="347.4" cy="29.3" r="1.8"/><circle cx="353.9" cy="28.3" r="1.8"/><circle cx="355.3" cy="25.7" r="1.8"/><circle cx="361.8" cy="24.7" r="1.8"/><circle cx="333.9" cy="43.4" r="1.8"/><circle cx="335.3" cy="40.8" r="1.8"/><circle cx="341.9" cy="39.8" r="1.8"/><circle cx="343.2" cy="37.1" r="1.8"/><circle cx="349.8" cy="36.2" r="1.8"/><circle cx="351.2" cy="33.6" r="1.8"/><circle cx="357.7" cy="32.6" r="1.8"/><circle cx="359.1" cy="30.0" r="1.8"/><circle cx="365.6" cy="29.0" r="1.8"/><circle cx="367.0" cy="26.4" r="1.8"/><circle cx="373.5" cy="25.4" r="1.8"/><circle cx="374.9" cy="22.8" r="1.8"/><circle cx="339.1" cy="45.0" r="1.8"/><circle cx="345.6" cy="44.0" r="1.8"/><circle cx="347.0" cy="41.4" r="1.8"/><circle cx="353.6" cy="40.4" r="1.8"/><circle cx="354.9" cy="37.8" r="1.8"/><circle cx="361.5" cy="36.8" r="1.8"/><circle cx="362.9" cy="34.2" r="1.8"/><circle cx="369.4" cy="33.2" r="1.8"/><circle cx="370.8" cy="30.6" r="1.8"/><circle cx="377.3" cy="29.6" r="1.8"/><circle cx="378.7" cy="27.0" r="1.8"/><circle cx="385.2" cy="26.0" r="1.8"/><circle cx="386.6" cy="23.4" r="1.8"/><circle cx="350.8" cy="45.7" r="1.8"/><circle cx="357.3" cy="44.7" r="1.8"/><circle cx="358.7" cy="42.1" r="1.8"/><circle cx="365.3" cy="41.1" r="1.8"/><circle cx="366.6" cy="38.5" r="1.8"/><circle cx="373.2" cy="37.5" r="1.8"/><circle cx="374.6" cy="34.9" r="1.8"/><circle cx="381.1" cy="33.9" r="1.8"/><circle cx="382.5" cy="31.3" r="1.8"/><circle cx="389.0" cy="30.3" r="1.8"/><circle cx="390.4" cy="27.7" r="1.8"/><circle cx="396.9" cy="26.7" r="1.8"/><circle cx="362.5" cy="46.4" r="1.8"/><circle cx="369.0" cy="45.4" r="1.8"/><circle cx="370.4" cy="42.8" r="1.8"/><circle cx="377.0" cy="41.8" r="1.8"/><circle cx="378.3" cy="39.2" r="1.8"/><circle cx="384.9" cy="38.2" r="1.8"/><circle cx="386.3" cy="35.6" r="1.8"/><circle cx="392.8" cy="34.6" r="1.8"/><circle cx="394.2" cy="32.0" r="1.8"/><circle cx="400.7" cy="31.0" r="1.8"/><circle cx="402.1" cy="28.4" r="1.8"/><circle cx="408.6" cy="27.4" r="1.8"/><circle cx="374.2" cy="47.0" r="1.8"/><circle cx="380.7" cy="46.1" r="1.8"/><circle cx="382.1" cy="43.5" r="1.8"/><circle cx="388.7" cy="42.5" r="1.8"/><circle cx="390.0" cy="39.8" r="1.8"/><circle cx="396.6" cy="38.9" r="1.8"/><circle cx="398.0" cy="36.2" r="1.8"/><circle cx="404.5" cy="35.3" r="1.8"/><circle cx="405.9" cy="32.7" r="1.8"/><circle cx="412.4" cy="31.7" r="1.8"/><circle cx="413.8" cy="29.1" r="1.8"/><circle cx="420.3" cy="28.1" r="1.8"/><circle cx="392.4" cy="46.8" r="1.8"/><circle cx="393.8" cy="44.1" r="1.8"/><circle cx="400.4" cy="43.1" r="1.8"/><circle cx="401.7" cy="40.5" r="1.8"/><circle cx="408.3" cy="39.5" r="1.8"/><circle cx="409.7" cy="36.9" r="1.8"/><circle cx="416.2" cy="36.0" r="1.8"/><circle cx="417.6" cy="33.3" r="1.8"/><circle cx="424.1" cy="32.4" r="1.8"/><circle cx="425.5" cy="29.7" r="1.8"/><circle cx="432.0" cy="28.8" r="1.8"/><circle cx="404.1" cy="47.4" r="1.8"/><circle cx="405.5" cy="44.8" r="1.8"/><circle cx="412.1" cy="43.8" r="1.8"/><circle cx="413.4" cy="41.2" r="1.8"/><circle cx="420.0" cy="40.2" r="1.8"/><circle cx="421.4" cy="37.6" r="1.8"/><circle cx="427.9" cy="36.6" r="1.8"/><circle cx="429.3" cy="34.0" r="1.8"/><circle cx="435.8" cy="33.0" r="1.8"/><circle cx="437.2" cy="30.4" r="1.8"/><circle cx="443.7" cy="29.4" r="1.8"/><circle cx="417.2" cy="45.5" r="1.8"/><circle cx="423.8" cy="44.5" r="1.8"/><circle cx="425.1" cy="41.9" r="1.8"/><circle cx="431.7" cy="40.9" r="1.8"/><circle cx="433.1" cy="38.3" r="1.8"/><circle cx="439.6" cy="37.3" r="1.8"/><circle cx="441.0" cy="34.7" r="1.8"/><circle cx="447.5" cy="33.7" r="1.8"/><circle cx="448.9" cy="31.1" r="1.8"/><circle cx="455.4" cy="30.1" r="1.8"/><circle cx="456.8" cy="27.5" r="1.8"/><circle cx="428.9" cy="46.1" r="1.8"/><circle cx="435.5" cy="45.2" r="1.8"/><circle cx="436.8" cy="42.5" r="1.8"/><circle cx="443.4" cy="41.6" r="1.8"/><circle cx="444.8" cy="39.0" r="1.8"/><circle cx="451.3" cy="38.0" r="1.8"/><circle cx="452.7" cy="35.4" r="1.8"/><circle cx="459.2" cy="34.4" r="1.8"/><circle cx="460.6" cy="31.8" r="1.8"/><circle cx="467.1" cy="30.8" r="1.8"/><circle cx="447.2" cy="45.9" r="1.8"/><circle cx="448.5" cy="43.2" r="1.8"/><circle cx="455.1" cy="42.2" r="1.8"/><circle cx="456.5" cy="39.6" r="1.8"/><circle cx="463.0" cy="38.6" r="1.8"/><circle cx="464.4" cy="36.0" r="1.8"/><circle cx="472.3" cy="32.4" r="1.8"/><circle cx="303.6" cy="43.1" r="1.8"/><circle cx="310.7" cy="39.9" r="1.8"/><circle cx="316.3" cy="36.9" r="1.8"/><circle cx="323.3" cy="32.5" r="1.8"/><circle cx="336.3" cy="27.1" r="1.8"/><circle cx="343.5" cy="23.0" r="1.8"/><circle cx="350.4" cy="21.0" r="1.8"/><circle cx="357.5" cy="21.9" r="1.8"/><circle cx="363.4" cy="23.2" r="1.8"/><circle cx="370.3" cy="21.8" r="1.8"/><circle cx="383.7" cy="22.3" r="1.8"/><circle cx="397.5" cy="26.4" r="1.8"/><circle cx="407.7" cy="27.5" r="1.8"/><circle cx="417.6" cy="24.9" r="1.8"/><circle cx="424.6" cy="26.7" r="1.8"/><circle cx="431.4" cy="25.5" r="1.8"/><circle cx="443.5" cy="28.8" r="1.8"/><circle cx="452.3" cy="26.3" r="1.8"/><circle cx="458.6" cy="27.5" r="1.8"/><circle cx="465.2" cy="29.1" r="1.8"/><circle cx="473.2" cy="30.0" r="1.8"/><circle cx="480.7" cy="30.7" r="1.8"/><circle cx="471.5" cy="33.9" r="1.8"/><circle cx="461.3" cy="40.3" r="1.8"/><circle cx="453.8" cy="43.0" r="1.8"/><circle cx="446.9" cy="46.5" r="1.8"/><circle cx="438.9" cy="47.1" r="1.8"/><circle cx="426.7" cy="46.8" r="1.8"/><circle cx="419.2" cy="47.6" r="1.8"/><circle cx="405.4" cy="47.7" r="1.8"/><circle cx="399.6" cy="47.2" r="1.8"/><circle cx="379.5" cy="46.8" r="1.8"/><circle cx="371.2" cy="47.2" r="1.8"/><circle cx="364.7" cy="46.6" r="1.8"/><circle cx="357.9" cy="45.7" r="1.8"/><circle cx="345.8" cy="46.4" r="1.8"/><circle cx="338.2" cy="45.4" r="1.8"/><circle cx="331.8" cy="44.5" r="1.8"/><circle cx="324.8" cy="43.5" r="1.8"/><circle cx="310.8" cy="43.5" r="1.8"/></g><circle cx="302.2" cy="25.6" r="5.3" fill="url(#ball)"/><circle cx="321.4" cy="15.7" r="5.3" fill="url(#ball)"/><circle cx="329.1" cy="21.6" r="5.3" fill="url(#ball)"/><circle cx="336.3" cy="27.5" r="5.3" fill="url(#ball)"/><circle cx="341.4" cy="6.1" r="5.3" fill="url(#ball)"/><circle cx="348.6" cy="11.5" r="5.3" fill="url(#ball)"/><circle cx="355.8" cy="17.6" r="5.3" fill="url(#ball)"/><circle cx="363" cy="23.2" r="5.3" fill="url(#ball)"/><circle cx="369.9" cy="29.3" r="5.3" fill="url(#ball)"/><circle cx="375.6" cy="7.7" r="5.3" fill="url(#ball)"/><circle cx="382.8" cy="13.6" r="5.3" fill="url(#ball)"/><circle cx="390" cy="19.5" r="5.3" fill="url(#ball)"/><circle cx="397.2" cy="25.3" r="5.3" fill="url(#ball)"/><circle cx="404.4" cy="31.2" r="5.3" fill="url(#ball)"/><circle cx="409.2" cy="9.9" r="5.3" fill="url(#ball)"/><circle cx="416.4" cy="15.7" r="5.3" fill="url(#ball)"/><circle cx="423.6" cy="21.1" r="5.3" fill="url(#ball)"/><circle cx="430.8" cy="27.2" r="5.3" fill="url(#ball)"/><circle cx="438" cy="32.8" r="5.3" fill="url(#ball)"/><circle cx="443.7" cy="11.5" r="5.3" fill="url(#ball)"/><circle cx="450.9" cy="17.6" r="5.3" fill="url(#ball)"/><circle cx="458.1" cy="23.2" r="5.3" fill="url(#ball)"/><circle cx="477.6" cy="13.6" r="5.3" fill="url(#ball)"/><polygon points="306.0,72.0 325.2,63.5 337.7,58.0 351.3,52.8 364.8,54.8 384.1,54.1 397.3,57.3 407.8,58.4 417.4,56.0 423.5,58.7 431.4,57.5 442.8,59.7 451.6,57.8 463.8,59.6 478.4,61.3 470.7,63.8 459.5,69.6 452.5,72.4 445.4,74.9 406.0,75.8 372.5,75.4 339.7,74.1 326.3,72.3" fill="#a4a4a4"/><path d="M310.5,72.5L304.0,73.5M310.5,72.5L311.9,69.9M318.5,68.9L311.9,69.9M318.5,68.9L319.8,66.3M318.5,68.9L323.6,70.6M326.4,65.3L319.8,66.3M326.4,65.3L327.8,62.7M326.4,65.3L331.5,67.0M334.3,61.7L327.8,62.7M334.3,61.7L335.7,59.1M334.3,61.7L339.5,63.4M342.2,58.1L335.7,59.1M342.2,58.1L343.6,55.5M342.2,58.1L347.4,59.8M350.1,54.5L343.6,55.5M350.1,54.5L351.5,51.9M350.1,54.5L355.3,56.2M322.2,73.2L323.6,70.6M330.2,69.6L323.6,70.6M330.2,69.6L331.5,67.0M330.2,69.6L335.3,71.2M338.1,66.0L331.5,67.0M338.1,66.0L339.5,63.4M338.1,66.0L343.2,67.6M346.0,62.4L339.5,63.4M346.0,62.4L347.4,59.8M346.0,62.4L351.2,64.0M353.9,58.8L347.4,59.8M353.9,58.8L355.3,56.2M353.9,58.8L359.1,60.4M361.8,55.2L355.3,56.2M361.8,55.2L367.0,56.8M333.9,73.9L335.3,71.2M333.9,73.9L339.1,75.5M341.9,70.3L335.3,71.2M341.9,70.3L343.2,67.7M341.9,70.3L347.0,71.9M349.8,66.7L343.2,67.6M349.8,66.7L351.2,64.0M349.8,66.7L354.9,68.3M357.7,63.1L351.2,64.0M357.7,63.1L359.1,60.4M357.7,63.1L362.9,64.7M365.6,59.5L359.1,60.5M365.6,59.5L367.0,56.9M365.6,59.5L370.8,61.1M373.5,55.9L367.0,56.9M373.5,55.9L374.9,53.2M373.5,55.9L378.7,57.5M345.6,74.6L339.1,75.5M345.6,74.6L347.0,71.9M345.6,74.6L350.8,76.2M353.6,71.0L347.0,71.9M353.6,71.0L354.9,68.3M353.6,71.0L358.7,72.6M361.5,67.4L354.9,68.3M361.5,67.4L362.9,64.7M361.5,67.4L366.6,69.0M369.4,63.8L362.9,64.7M369.4,63.8L370.8,61.1M369.4,63.8L374.6,65.4M377.3,60.1L370.8,61.1M377.3,60.1L378.7,57.5M377.3,60.1L382.5,61.8M385.2,56.5L378.7,57.5M385.2,56.5L386.6,53.9M385.2,56.5L390.4,58.2M357.3,75.2L350.8,76.2M357.3,75.2L358.7,72.6M357.3,75.2L362.5,76.9M365.3,71.6L358.7,72.6M365.3,71.6L366.6,69.0M365.3,71.6L370.4,73.3M373.2,68.0L366.6,69.0M373.2,68.0L374.6,65.4M373.2,68.0L378.3,69.7M381.1,64.4L374.6,65.4M381.1,64.4L382.5,61.8M381.1,64.4L386.3,66.1M389.0,60.8L382.5,61.8M389.0,60.8L390.4,58.2M389.0,60.8L394.2,62.5M396.9,57.2L390.4,58.2M396.9,57.2L402.1,58.9M369.0,75.9L362.5,76.9M369.0,75.9L370.4,73.3M369.0,75.9L374.2,77.5M377.0,72.3L370.4,73.3M377.0,72.3L378.3,69.7M377.0,72.3L382.1,74.0M384.9,68.7L378.3,69.7M384.9,68.7L386.3,66.1M384.9,68.7L390.0,70.3M392.8,65.1L386.3,66.1M392.8,65.1L394.2,62.5M392.8,65.1L398.0,66.8M400.7,61.5L394.2,62.5M400.7,61.5L402.1,58.9M400.7,61.5L405.9,63.1M408.6,57.9L402.1,58.9M408.6,57.9L413.8,59.5M380.7,76.6L374.2,77.5M380.7,76.6L382.1,74.0M388.7,73.0L382.1,74.0M388.7,73.0L390.0,70.4M388.7,73.0L393.8,74.6M396.6,69.4L390.0,70.3M396.6,69.4L398.0,66.8M396.6,69.4L401.7,71.0M404.5,65.8L398.0,66.8M404.5,65.8L405.9,63.1M404.5,65.8L409.7,67.4M412.4,62.2L405.9,63.2M412.4,62.2L413.8,59.6M412.4,62.2L417.6,63.8M420.3,58.6L413.8,59.5M420.3,58.6L425.5,60.2M392.4,77.2L393.8,74.6M400.4,73.7L393.8,74.6M400.4,73.7L401.7,71.0M400.4,73.7L405.5,75.3M408.3,70.0L401.7,71.0M408.3,70.0L409.7,67.4M408.3,70.0L413.4,71.7M416.2,66.5L409.7,67.4M416.2,66.5L417.6,63.8M416.2,66.5L421.4,68.1M424.1,62.9L417.6,63.8M424.1,62.9L425.5,60.2M424.1,62.9L429.3,64.5M432.0,59.2L425.5,60.2M432.0,59.2L437.2,60.9M404.1,77.9L405.5,75.3M412.1,74.3L405.5,75.3M412.1,74.3L413.4,71.7M412.1,74.3L417.2,76.0M420.0,70.7L413.4,71.7M420.0,70.7L421.4,68.1M420.0,70.7L425.1,72.4M427.9,67.1L421.4,68.1M427.9,67.1L429.3,64.5M427.9,67.1L433.1,68.8M435.8,63.5L429.3,64.5M435.8,63.5L437.2,60.9M435.8,63.5L441.0,65.2M443.7,59.9L437.2,60.9M443.7,59.9L448.9,61.6M423.8,75.0L417.2,76.0M423.8,75.0L425.1,72.4M423.8,75.0L428.9,76.7M431.7,71.4L425.1,72.4M431.7,71.4L433.1,68.8M431.7,71.4L436.8,73.0M439.6,67.8L433.1,68.8M439.6,67.8L441.0,65.2M439.6,67.8L444.8,69.5M447.5,64.2L441.0,65.2M447.5,64.2L448.9,61.6M447.5,64.2L452.7,65.8M455.4,60.6L448.9,61.6M455.4,60.6L456.8,58.0M455.4,60.6L460.6,62.2M435.5,75.7L428.9,76.7M435.5,75.7L436.8,73.1M443.4,72.1L436.8,73.0M443.4,72.1L444.8,69.5M443.4,72.1L448.5,73.7M451.3,68.5L444.8,69.5M451.3,68.5L452.7,65.9M451.3,68.5L456.5,70.1M459.2,64.9L452.7,65.8M459.2,64.9L460.6,62.2M459.2,64.9L464.4,66.5M467.1,61.3L460.6,62.2M467.1,61.3L472.3,62.9M447.2,76.4L448.5,73.7M455.1,72.8L448.5,73.7M455.1,72.8L456.5,70.1M463.0,69.2L456.5,70.1M463.0,69.2L464.4,66.5" stroke="#6e6e6e" stroke-width="1.1" fill="none"/><g fill="#f2f2f2" stroke="#555555" stroke-width="1.1"><circle cx="304.0" cy="73.5" r="1.8"/><circle cx="310.5" cy="72.5" r="1.8"/><circle cx="311.9" cy="69.9" r="1.8"/><circle cx="318.5" cy="68.9" r="1.8"/><circle cx="319.8" cy="66.3" r="1.8"/><circle cx="326.4" cy="65.3" r="1.8"/><circle cx="327.8" cy="62.7" r="1.8"/><circle cx="334.3" cy="61.7" r="1.8"/><circle cx="335.7" cy="59.1" r="1.8"/><circle cx="342.2" cy="58.1" r="1.8"/><circle cx="343.6" cy="55.5" r="1.8"/><circle cx="350.1" cy="54.5" r="1.8"/><circle cx="351.5" cy="51.9" r="1.8"/><circle cx="322.2" cy="73.2" r="1.8"/><circle cx="323.6" cy="70.6" r="1.8"/><circle cx="330.2" cy="69.6" r="1.8"/><circle cx="331.5" cy="67.0" r="1.8"/><circle cx="338.1" cy="66.0" r="1.8"/><circle cx="339.5" cy="63.4" r="1.8"/><circle cx="346.0" cy="62.4" r="1.8"/><circle cx="347.4" cy="59.8" r="1.8"/><circle cx="353.9" cy="58.8" r="1.8"/><circle cx="355.3" cy="56.2" r="1.8"/><circle cx="361.8" cy="55.2" r="1.8"/><circle cx="333.9" cy="73.9" r="1.8"/><circle cx="335.3" cy="71.2" r="1.8"/><circle cx="341.9" cy="70.3" r="1.8"/><circle cx="343.2" cy="67.6" r="1.8"/><circle cx="349.8" cy="66.7" r="1.8"/><circle cx="351.2" cy="64.0" r="1.8"/><circle cx="357.7" cy="63.1" r="1.8"/><circle cx="359.1" cy="60.5" r="1.8"/><circle cx="365.6" cy="59.5" r="1.8"/><circle cx="367.0" cy="56.9" r="1.8"/><circle cx="373.5" cy="55.9" r="1.8"/><circle cx="374.9" cy="53.2" r="1.8"/><circle cx="339.1" cy="75.5" r="1.8"/><circle cx="345.6" cy="74.6" r="1.8"/><circle cx="347.0" cy="71.9" r="1.8"/><circle cx="353.6" cy="71.0" r="1.8"/><circle cx="354.9" cy="68.3" r="1.8"/><circle cx="361.5" cy="67.4" r="1.8"/><circle cx="362.9" cy="64.7" r="1.8"/><circle cx="369.4" cy="63.8" r="1.8"/><circle cx="370.8" cy="61.1" r="1.8"/><circle cx="377.3" cy="60.1" r="1.8"/><circle cx="378.7" cy="57.5" r="1.8"/><circle cx="385.2" cy="56.5" r="1.8"/><circle cx="386.6" cy="53.9" r="1.8"/><circle cx="350.8" cy="76.2" r="1.8"/><circle cx="357.3" cy="75.2" r="1.8"/><circle cx="358.7" cy="72.6" r="1.8"/><circle cx="365.3" cy="71.6" r="1.8"/><circle cx="366.6" cy="69.0" r="1.8"/><circle cx="373.2" cy="68.0" r="1.8"/><circle cx="374.6" cy="65.4" r="1.8"/><circle cx="381.1" cy="64.4" r="1.8"/><circle cx="382.5" cy="61.8" r="1.8"/><circle cx="389.0" cy="60.8" r="1.8"/><circle cx="390.4" cy="58.2" r="1.8"/><circle cx="396.9" cy="57.2" r="1.8"/><circle cx="362.5" cy="76.9" r="1.8"/><circle cx="369.0" cy="75.9" r="1.8"/><circle cx="370.4" cy="73.3" r="1.8"/><circle cx="377.0" cy="72.3" r="1.8"/><circle cx="378.3" cy="69.7" r="1.8"/><circle cx="384.9" cy="68.7" r="1.8"/><circle cx="386.3" cy="66.1" r="1.8"/><circle cx="392.8" cy="65.1" r="1.8"/><circle cx="394.2" cy="62.5" r="1.8"/><circle cx="400.7" cy="61.5" r="1.8"/><circle cx="402.1" cy="58.9" r="1.8"/><circle cx="408.6" cy="57.9" r="1.8"/><circle cx="374.2" cy="77.5" r="1.8"/><circle cx="380.7" cy="76.6" r="1.8"/><circle cx="382.1" cy="74.0" r="1.8"/><circle cx="388.7" cy="73.0" r="1.8"/><circle cx="390.0" cy="70.3" r="1.8"/><circle cx="396.6" cy="69.4" r="1.8"/><circle cx="398.0" cy="66.8" r="1.8"/><circle cx="404.5" cy="65.8" r="1.8"/><circle cx="405.9" cy="63.2" r="1.8"/><circle cx="412.4" cy="62.2" r="1.8"/><circle cx="413.8" cy="59.5" r="1.8"/><circle cx="420.3" cy="58.6" r="1.8"/><circle cx="392.4" cy="77.2" r="1.8"/><circle cx="393.8" cy="74.6" r="1.8"/><circle cx="400.4" cy="73.7" r="1.8"/><circle cx="401.7" cy="71.0" r="1.8"/><circle cx="408.3" cy="70.0" r="1.8"/><circle cx="409.7" cy="67.4" r="1.8"/><circle cx="416.2" cy="66.5" r="1.8"/><circle cx="417.6" cy="63.8" r="1.8"/><circle cx="424.1" cy="62.9" r="1.8"/><circle cx="425.5" cy="60.2" r="1.8"/><circle cx="432.0" cy="59.2" r="1.8"/><circle cx="404.1" cy="77.9" r="1.8"/><circle cx="405.5" cy="75.3" r="1.8"/><circle cx="412.1" cy="74.3" r="1.8"/><circle cx="413.4" cy="71.7" r="1.8"/><circle cx="420.0" cy="70.7" r="1.8"/><circle cx="421.4" cy="68.1" r="1.8"/><circle cx="427.9" cy="67.1" r="1.8"/><circle cx="429.3" cy="64.5" r="1.8"/><circle cx="435.8" cy="63.5" r="1.8"/><circle cx="437.2" cy="60.9" r="1.8"/><circle cx="443.7" cy="59.9" r="1.8"/><circle cx="417.2" cy="76.0" r="1.8"/><circle cx="423.8" cy="75.0" r="1.8"/><circle cx="425.1" cy="72.4" r="1.8"/><circle cx="431.7" cy="71.4" r="1.8"/><circle cx="433.1" cy="68.8" r="1.8"/><circle cx="439.6" cy="67.8" r="1.8"/><circle cx="441.0" cy="65.2" r="1.8"/><circle cx="447.5" cy="64.2" r="1.8"/><circle cx="448.9" cy="61.6" r="1.8"/><circle cx="455.4" cy="60.6" r="1.8"/><circle cx="456.8" cy="58.0" r="1.8"/><circle cx="428.9" cy="76.7" r="1.8"/><circle cx="435.5" cy="75.7" r="1.8"/><circle cx="436.8" cy="73.0" r="1.8"/><circle cx="443.4" cy="72.1" r="1.8"/><circle cx="444.8" cy="69.5" r="1.8"/><circle cx="451.3" cy="68.5" r="1.8"/><circle cx="452.7" cy="65.8" r="1.8"/><circle cx="459.2" cy="64.9" r="1.8"/><circle cx="460.6" cy="62.2" r="1.8"/><circle cx="467.1" cy="61.3" r="1.8"/><circle cx="447.2" cy="76.4" r="1.8"/><circle cx="448.5" cy="73.7" r="1.8"/><circle cx="455.1" cy="72.8" r="1.8"/><circle cx="456.5" cy="70.1" r="1.8"/><circle cx="463.0" cy="69.2" r="1.8"/><circle cx="464.4" cy="66.5" r="1.8"/><circle cx="472.3" cy="62.9" r="1.8"/><circle cx="303.6" cy="72.9" r="1.8"/><circle cx="310.0" cy="69.5" r="1.8"/><circle cx="317.8" cy="67.3" r="1.8"/><circle cx="324.1" cy="63.0" r="1.8"/><circle cx="329.7" cy="59.8" r="1.8"/><circle cx="335.7" cy="56.6" r="1.8"/><circle cx="350.7" cy="51.5" r="1.8"/><circle cx="363.6" cy="53.0" r="1.8"/><circle cx="371.0" cy="53.6" r="1.8"/><circle cx="383.1" cy="52.6" r="1.8"/><circle cx="390.5" cy="53.8" r="1.8"/><circle cx="397.1" cy="55.6" r="1.8"/><circle cx="408.6" cy="58.1" r="1.8"/><circle cx="417.8" cy="54.4" r="1.8"/><circle cx="424.6" cy="58.0" r="1.8"/><circle cx="432.6" cy="57.0" r="1.8"/><circle cx="437.7" cy="57.9" r="1.8"/><circle cx="443.5" cy="58.5" r="1.8"/><circle cx="452.3" cy="57.3" r="1.8"/><circle cx="458.1" cy="58.0" r="1.8"/><circle cx="464.7" cy="59.0" r="1.8"/><circle cx="472.3" cy="60.7" r="1.8"/><circle cx="479.5" cy="60.7" r="1.8"/><circle cx="471.6" cy="64.0" r="1.8"/><circle cx="466.1" cy="67.6" r="1.8"/><circle cx="460.3" cy="70.7" r="1.8"/><circle cx="454.1" cy="73.3" r="1.8"/><circle cx="445.6" cy="76.4" r="1.8"/><circle cx="432.5" cy="77.0" r="1.8"/><circle cx="426.1" cy="76.7" r="1.8"/><circle cx="420.1" cy="78.4" r="1.8"/><circle cx="406.8" cy="77.3" r="1.8"/><circle cx="400.0" cy="78.4" r="1.8"/><circle cx="393.1" cy="78.0" r="1.8"/><circle cx="378.2" cy="77.6" r="1.8"/><circle cx="371.3" cy="77.4" r="1.8"/><circle cx="357.7" cy="76.2" r="1.8"/><circle cx="352.2" cy="76.4" r="1.8"/><circle cx="344.5" cy="77.1" r="1.8"/><circle cx="338.3" cy="75.5" r="1.8"/><circle cx="330.9" cy="74.4" r="1.8"/><circle cx="325.0" cy="73.3" r="1.8"/><circle cx="317.8" cy="73.3" r="1.8"/></g><circle cx="302.2" cy="56" r="5.3" fill="url(#ball)"/><circle cx="321.4" cy="47.2" r="5.3" fill="url(#ball)"/><circle cx="328.9" cy="52.5" r="5.3" fill="url(#ball)"/><circle cx="336.3" cy="58.4" r="5.3" fill="url(#ball)"/><circle cx="355.8" cy="48.8" r="5.3" fill="url(#ball)"/><circle cx="363" cy="54.4" r="5.3" fill="url(#ball)"/><circle cx="369.9" cy="60" r="5.3" fill="url(#ball)"/><circle cx="389.2" cy="50.4" r="5.3" fill="url(#ball)"/><circle cx="396.9" cy="56" r="5.3" fill="url(#ball)"/><circle cx="404.4" cy="61.6" r="5.3" fill="url(#ball)"/><circle cx="423.6" cy="52.5" r="5.3" fill="url(#ball)"/><circle cx="430.8" cy="57.9" r="5.3" fill="url(#ball)"/><circle cx="438.5" cy="63.7" r="5.3" fill="url(#ball)"/><circle cx="450.4" cy="48.8" r="5.3" fill="url(#ball)"/><circle cx="458.1" cy="54.1" r="5.3" fill="url(#ball)"/><circle cx="477.3" cy="44.5" r="5.3" fill="url(#ball)"/><circle cx="302.2" cy="86.8" r="5.3" fill="url(#ball)"/><circle cx="321.4" cy="77.6" r="5.3" fill="url(#ball)"/><circle cx="328.9" cy="82.9" r="5.3" fill="url(#ball)"/><circle cx="336.3" cy="88.4" r="5.3" fill="url(#ball)"/><circle cx="355.8" cy="79.2" r="5.3" fill="url(#ball)"/><circle cx="363" cy="84.8" r="5.3" fill="url(#ball)"/><circle cx="369.9" cy="89.6" r="5.3" fill="url(#ball)"/><circle cx="389.3" cy="81.2" r="5.3" fill="url(#ball)"/><circle cx="397.1" cy="86.8" r="5.3" fill="url(#ball)"/><circle cx="403.9" cy="92.6" r="5.3" fill="url(#ball)"/><circle cx="423.6" cy="83.2" r="5.3" fill="url(#ball)"/><circle cx="431" cy="88.5" r="5.3" fill="url(#ball)"/><circle cx="438.2" cy="94" r="5.3" fill="url(#ball)"/><circle cx="450.4" cy="79.2" r="5.3" fill="url(#ball)"/><circle cx="458.1" cy="84.8" r="5.3" fill="url(#ball)"/><circle cx="477.3" cy="74.9" r="5.3" fill="url(#ball)"/><text transform="translate(309.40,120.20) scale(1,1.12)" font-family="Liberation Serif" font-size="12.75" fill="#111">Lithiated Graphite Compounds</text><rect x="42.6" y="139" width="212.9" height="166.60000000000002" fill="none" stroke="#505050" stroke-width="1.1"/><line x1="56.5" y1="305.6" x2="56.5" y2="302.40000000000003" stroke="#505050" stroke-width="1"/><text transform="translate(56.50,317.60) scale(1,1.18)" font-family="Liberation Sans" font-size="9.8" fill="#111" stroke="#111" stroke-width="0.12" text-anchor="middle">0.0</text><line x1="74.7" y1="305.6" x2="74.7" y2="303.6" stroke="#505050" stroke-width="1"/><line x1="92.8" y1="305.6" x2="92.8" y2="302.40000000000003" stroke="#505050" stroke-width="1"/><text transform="translate(92.82,317.60) scale(1,1.18)" font-family="Liberation Sans" font-size="9.8" fill="#111" stroke="#111" stroke-width="0.12" text-anchor="middle">0.2</text><line x1="111.0" y1="305.6" x2="111.0" y2="303.6" stroke="#505050" stroke-width="1"/><line x1="129.1" y1="305.6" x2="129.1" y2="302.40000000000003" stroke="#505050" stroke-width="1"/><text transform="translate(129.14,317.60) scale(1,1.18)" font-family="Liberation Sans" font-size="9.8" fill="#111" stroke="#111" stroke-width="0.12" text-anchor="middle">0.4</text><line x1="147.3" y1="305.6" x2="147.3" y2="303.6" stroke="#505050" stroke-width="1"/><line x1="165.5" y1="305.6" x2="165.5" y2="302.40000000000003" stroke="#505050" stroke-width="1"/><text transform="translate(165.46,317.60) scale(1,1.18)" font-family="Liberation Sans" font-size="9.8" fill="#111" stroke="#111" stroke-width="0.12" text-anchor="middle">0.6</text><line x1="183.6" y1="305.6" x2="183.6" y2="303.6" stroke="#505050" stroke-width="1"/><line x1="201.8" y1="305.6" x2="201.8" y2="302.40000000000003" stroke="#505050" stroke-width="1"/><text transform="translate(201.78,317.60) scale(1,1.18)" font-family="Liberation Sans" font-size="9.8" fill="#111" stroke="#111" stroke-width="0.12" text-anchor="middle">0.8</text><line x1="219.9" y1="305.6" x2="219.9" y2="303.6" stroke="#505050" stroke-width="1"/><line x1="238.1" y1="305.6" x2="238.1" y2="302.40000000000003" stroke="#505050" stroke-width="1"/><text transform="translate(238.10,317.60) scale(1,1.18)" font-family="Liberation Sans" font-size="9.8" fill="#111" stroke="#111" stroke-width="0.12" text-anchor="middle">1.0</text><line x1="42.6" y1="305.6" x2="45.800000000000004" y2="305.6" stroke="#505050" stroke-width="1"/><text transform="translate(38.80,309.00) scale(1,1.18)" font-family="Liberation Sans" font-size="9.8" fill="#111" stroke="#111" stroke-width="0.12" text-anchor="end">0</text><line x1="42.6" y1="277.8" x2="45.800000000000004" y2="277.8" stroke="#505050" stroke-width="1"/><text transform="translate(38.80,281.23) scale(1,1.18)" font-family="Liberation Sans" font-size="9.8" fill="#111" stroke="#111" stroke-width="0.12" text-anchor="end">250</text><line x1="42.6" y1="250.1" x2="45.800000000000004" y2="250.1" stroke="#505050" stroke-width="1"/><text transform="translate(38.80,253.47) scale(1,1.18)" font-family="Liberation Sans" font-size="9.8" fill="#111" stroke="#111" stroke-width="0.12" text-anchor="end">500</text><line x1="42.6" y1="222.3" x2="45.800000000000004" y2="222.3" stroke="#505050" stroke-width="1"/><text transform="translate(38.80,225.70) scale(1,1.18)" font-family="Liberation Sans" font-size="9.8" fill="#111" stroke="#111" stroke-width="0.12" text-anchor="end">750</text><line x1="42.6" y1="194.5" x2="45.800000000000004" y2="194.5" stroke="#505050" stroke-width="1"/><text transform="translate(38.80,197.93) scale(1,1.18)" font-family="Liberation Sans" font-size="9.8" fill="#111" stroke="#111" stroke-width="0.12" text-anchor="end">1000</text><line x1="42.6" y1="166.8" x2="45.800000000000004" y2="166.8" stroke="#505050" stroke-width="1"/><text transform="translate(38.80,170.17) scale(1,1.18)" font-family="Liberation Sans" font-size="9.8" fill="#111" stroke="#111" stroke-width="0.12" text-anchor="end">1250</text><line x1="42.6" y1="139.0" x2="45.800000000000004" y2="139.0" stroke="#505050" stroke-width="1"/><text transform="translate(38.80,142.40) scale(1,1.18)" font-family="Liberation Sans" font-size="9.8" fill="#111" stroke="#111" stroke-width="0.12" text-anchor="end">1500</text><text transform="translate(10.00,313.60) rotate(-90) scale(1.0,1)" font-family="Liberation Serif" font-size="11.8" fill="#111" textLength="176" lengthAdjust="spacingAndGlyphs">Basal Plane Thermal Conductivity</text><text transform="translate(59.60,335.00) scale(1,1.18)" font-family="Liberation Serif" font-size="12.6" fill="#111" textLength="163.5" lengthAdjust="spacingAndGlyphs">Lithium Composition <tspan font-style="italic">x</tspan> in Li<tspan font-size="8.5" dy="2.3" font-style="italic">x</tspan><tspan dy="-2.3">C</tspan><tspan font-size="9" dy="2.3" font-style="italic">6</tspan></text><rect x="285.8" y="139.2" width="212.5" height="166.40000000000003" fill="none" stroke="#505050" stroke-width="1.1"/><line x1="303.8" y1="305.6" x2="303.8" y2="302.40000000000003" stroke="#505050" stroke-width="1"/><text transform="translate(303.80,317.60) scale(1,1.18)" font-family="Liberation Sans" font-size="9.8" fill="#111" stroke="#111" stroke-width="0.12" text-anchor="middle">0.0</text><line x1="321.4" y1="305.6" x2="321.4" y2="303.6" stroke="#505050" stroke-width="1"/><line x1="339.1" y1="305.6" x2="339.1" y2="302.40000000000003" stroke="#505050" stroke-width="1"/><text transform="translate(339.08,317.60) scale(1,1.18)" font-family="Liberation Sans" font-size="9.8" fill="#111" stroke="#111" stroke-width="0.12" text-anchor="middle">0.2</text><line x1="356.7" y1="305.6" x2="356.7" y2="303.6" stroke="#505050" stroke-width="1"/><line x1="374.4" y1="305.6" x2="374.4" y2="302.40000000000003" stroke="#505050" stroke-width="1"/><text transform="translate(374.36,317.60) scale(1,1.18)" font-family="Liberation Sans" font-size="9.8" fill="#111" stroke="#111" stroke-width="0.12" text-anchor="middle">0.4</text><line x1="392.0" y1="305.6" x2="392.0" y2="303.6" stroke="#505050" stroke-width="1"/><line x1="409.6" y1="305.6" x2="409.6" y2="302.40000000000003" stroke="#505050" stroke-width="1"/><text transform="translate(409.64,317.60) scale(1,1.18)" font-family="Liberation Sans" font-size="9.8" fill="#111" stroke="#111" stroke-width="0.12" text-anchor="middle">0.6</text><line x1="427.3" y1="305.6" x2="427.3" y2="303.6" stroke="#505050" stroke-width="1"/><line x1="444.9" y1="305.6" x2="444.9" y2="302.40000000000003" stroke="#505050" stroke-width="1"/><text transform="translate(444.92,317.60) scale(1,1.18)" font-family="Liberation Sans" font-size="9.8" fill="#111" stroke="#111" stroke-width="0.12" text-anchor="middle">0.8</text><line x1="462.6" y1="305.6" x2="462.6" y2="303.6" stroke="#505050" stroke-width="1"/><line x1="480.2" y1="305.6" x2="480.2" y2="302.40000000000003" stroke="#505050" stroke-width="1"/><text transform="translate(480.20,317.60) scale(1,1.18)" font-family="Liberation Sans" font-size="9.8" fill="#111" stroke="#111" stroke-width="0.12" text-anchor="middle">1.0</text><line x1="285.8" y1="305.6" x2="289.0" y2="305.6" stroke="#505050" stroke-width="1"/><text transform="translate(282.60,309.00) scale(1,1.18)" font-family="Liberation Sans" font-size="9.8" fill="#111" stroke="#111" stroke-width="0.12" text-anchor="end">0</text><line x1="285.8" y1="284.8" x2="289.0" y2="284.8" stroke="#505050" stroke-width="1"/><text transform="translate(282.60,288.20) scale(1,1.18)" font-family="Liberation Sans" font-size="9.8" fill="#111" stroke="#111" stroke-width="0.12" text-anchor="end">1</text><line x1="285.8" y1="264.0" x2="289.0" y2="264.0" stroke="#505050" stroke-width="1"/><text transform="translate(282.60,267.40) scale(1,1.18)" font-family="Liberation Sans" font-size="9.8" fill="#111" stroke="#111" stroke-width="0.12" text-anchor="end">2</text><line x1="285.8" y1="243.2" x2="289.0" y2="243.2" stroke="#505050" stroke-width="1"/><text transform="translate(282.60,246.60) scale(1,1.18)" font-family="Liberation Sans" font-size="9.8" fill="#111" stroke="#111" stroke-width="0.12" text-anchor="end">3</text><line x1="285.8" y1="222.4" x2="289.0" y2="222.4" stroke="#505050" stroke-width="1"/><text transform="translate(282.60,225.80) scale(1,1.18)" font-family="Liberation Sans" font-size="9.8" fill="#111" stroke="#111" stroke-width="0.12" text-anchor="end">4</text><line x1="285.8" y1="201.6" x2="289.0" y2="201.6" stroke="#505050" stroke-width="1"/><text transform="translate(282.60,205.00) scale(1,1.18)" font-family="Liberation Sans" font-size="9.8" fill="#111" stroke="#111" stroke-width="0.12" text-anchor="end">5</text><line x1="285.8" y1="180.8" x2="289.0" y2="180.8" stroke="#505050" stroke-width="1"/><text transform="translate(282.60,184.20) scale(1,1.18)" font-family="Liberation Sans" font-size="9.8" fill="#111" stroke="#111" stroke-width="0.12" text-anchor="end">6</text><line x1="285.8" y1="160.0" x2="289.0" y2="160.0" stroke="#505050" stroke-width="1"/><text transform="translate(282.60,163.40) scale(1,1.18)" font-family="Liberation Sans" font-size="9.8" fill="#111" stroke="#111" stroke-width="0.12" text-anchor="end">7</text><line x1="285.8" y1="139.2" x2="289.0" y2="139.2" stroke="#505050" stroke-width="1"/><text transform="translate(282.60,142.60) scale(1,1.18)" font-family="Liberation Sans" font-size="9.8" fill="#111" stroke="#111" stroke-width="0.12" text-anchor="end">8</text><text transform="translate(271.50,314.40) rotate(-90) scale(1.0,1)" font-family="Liberation Serif" font-size="11.8" fill="#111" textLength="175.5" lengthAdjust="spacingAndGlyphs">Thermal Conductivity along c-axis</text><text transform="translate(303.80,335.00) scale(1,1.18)" font-family="Liberation Serif" font-size="12.6" fill="#111" textLength="163.5" lengthAdjust="spacingAndGlyphs">Lithium Composition <tspan font-style="italic">x</tspan> in Li<tspan font-size="8.5" dy="2.3" font-style="italic">x</tspan><tspan dy="-2.3">C</tspan><tspan font-size="9" dy="2.3" font-style="italic">6</tspan></text><g stroke="#333" stroke-width="1"><line x1="56.9" y1="154.2" x2="56.9" y2="185.2"/><line x1="53.9" y1="154.2" x2="59.9" y2="154.2"/><line x1="53.9" y1="185.2" x2="59.9" y2="185.2"/></g><rect x="54.2" y="167.5" width="5.4" height="5.4" fill="#000"/><text transform="translate(62.50,174.40) scale(1,1.18)" font-family="Liberation Sans" font-size="9.8" fill="#111" stroke="#111" stroke-width="0.12">Graphite</text><g stroke="#f7841e" stroke-width="0.8"><line x1="117.1" y1="237.4" x2="117.1" y2="241.2"/><line x1="110.89999999999999" y1="237.4" x2="123.3" y2="237.4"/><line x1="110.89999999999999" y1="241.2" x2="123.3" y2="241.2"/></g><circle cx="117.1" cy="239.2" r="3.25" fill="#f7841e"/><text transform="translate(85.00,256.20) scale(1,1.18)" font-family="Liberation Sans" font-size="9.8" fill="#f7841e" stroke="#f7841e" stroke-width="0.12">Stage-2'</text><text transform="translate(85.00,267.60) scale(1,1.18)" font-family="Liberation Sans" font-size="9.8" fill="#f7841e" stroke="#f7841e" stroke-width="0.12">LiC<tspan font-size="6.3" dy="3.3">18</tspan></text><g stroke="#22cc22" stroke-width="1"><line x1="147.2" y1="226.6" x2="147.2" y2="242.6"/><line x1="144.6" y1="226.6" x2="149.79999999999998" y2="226.6"/><line x1="144.6" y1="242.6" x2="149.79999999999998" y2="242.6"/></g><polygon points="142.8,234 150.2,230.2 150.2,237.8" fill="#22cc22"/><text transform="translate(157.00,235.00) scale(1,1.18)" font-family="Liberation Sans" font-size="9.8" fill="#22cc22" stroke="#22cc22" stroke-width="0.12">Stage-2</text><text transform="translate(157.00,246.70) scale(1,1.18)" font-family="Liberation Sans" font-size="9.8" fill="#22cc22" stroke="#22cc22" stroke-width="0.12">LiC<tspan font-size="6.3" dy="3.3">12</tspan></text><g stroke="#9b1fc8" stroke-width="1"><line x1="238.1" y1="253.3" x2="238.1" y2="261.3"/><line x1="235.5" y1="253.3" x2="240.7" y2="253.3"/><line x1="235.5" y1="261.3" x2="240.7" y2="261.3"/></g><polygon points="238.1,253.4 241.9,257.2 238.1,261 234.3,257.2" fill="#9b1fc8"/><text transform="translate(209.20,274.40) scale(1,1.18)" font-family="Liberation Sans" font-size="9.8" fill="#9b1fc8" stroke="#9b1fc8" stroke-width="0.12">Stage-1</text><text transform="translate(209.20,286.50) scale(1,1.18)" font-family="Liberation Sans" font-size="9.8" fill="#9b1fc8" stroke="#9b1fc8" stroke-width="0.12">LiC<tspan font-size="6.3" dy="3.3">6</tspan></text><g stroke="#333" stroke-width="1"><line x1="304.2" y1="156.3" x2="304.2" y2="181.3"/><line x1="301.2" y1="156.3" x2="307.2" y2="156.3"/><line x1="301.2" y1="181.3" x2="307.2" y2="181.3"/></g><rect x="301.5" y="165.7" width="5.4" height="5.4" fill="#000"/><text transform="translate(309.40,172.60) scale(1,1.18)" font-family="Liberation Sans" font-size="9.8" fill="#111" stroke="#111" stroke-width="0.12">Graphite</text><g stroke="#f7841e" stroke-width="0.8"><line x1="363" y1="276.6" x2="363" y2="283.0"/><line x1="356.8" y1="276.6" x2="369.2" y2="276.6"/><line x1="356.8" y1="283.0" x2="369.2" y2="283.0"/></g><circle cx="363" cy="279.8" r="3.25" fill="#f7841e"/><text transform="translate(373.30,283.20) scale(1,1.18)" font-family="Liberation Sans" font-size="9.8" fill="#f7841e" stroke="#f7841e" stroke-width="0.12">Stage-2'</text><text transform="translate(373.30,294.40) scale(1,1.18)" font-family="Liberation Sans" font-size="9.8" fill="#f7841e" stroke="#f7841e" stroke-width="0.12">LiC<tspan font-size="6.3" dy="3.3">18</tspan></text><g stroke="#22cc22" stroke-width="1"><line x1="392" y1="222.2" x2="392" y2="242.3"/><line x1="389.4" y1="222.2" x2="394.6" y2="222.2"/><line x1="389.4" y1="242.3" x2="394.6" y2="242.3"/></g><polygon points="387.9,232.5 395.5,228.6 395.5,236.4" fill="#22cc22"/><text transform="translate(403.40,234.40) scale(1,1.18)" font-family="Liberation Sans" font-size="9.8" fill="#22cc22" stroke="#22cc22" stroke-width="0.12">Stage-2</text><text transform="translate(403.40,246.20) scale(1,1.18)" font-family="Liberation Sans" font-size="9.8" fill="#22cc22" stroke="#22cc22" stroke-width="0.12">LiC<tspan font-size="6.3" dy="3.3">12</tspan></text><g stroke="#9b1fc8" stroke-width="1"><line x1="481.5" y1="187.7" x2="481.5" y2="214.3"/><line x1="478.2" y1="187.7" x2="484.8" y2="187.7"/><line x1="478.2" y1="214.3" x2="484.8" y2="214.3"/></g><polygon points="481.5,196 485.7,201 481.5,206 477.3,201" fill="#9b1fc8"/><text transform="translate(439.00,199.10) scale(1,1.18)" font-family="Liberation Sans" font-size="9.8" fill="#9b1fc8" stroke="#9b1fc8" stroke-width="0.12">Stage-1</text><text transform="translate(439.00,211.50) scale(1,1.18)" font-family="Liberation Sans" font-size="9.8" fill="#9b1fc8" stroke="#9b1fc8" stroke-width="0.12">LiC<tspan font-size="6.3" dy="3.3">6</tspan></text></svg>
</body></html>
